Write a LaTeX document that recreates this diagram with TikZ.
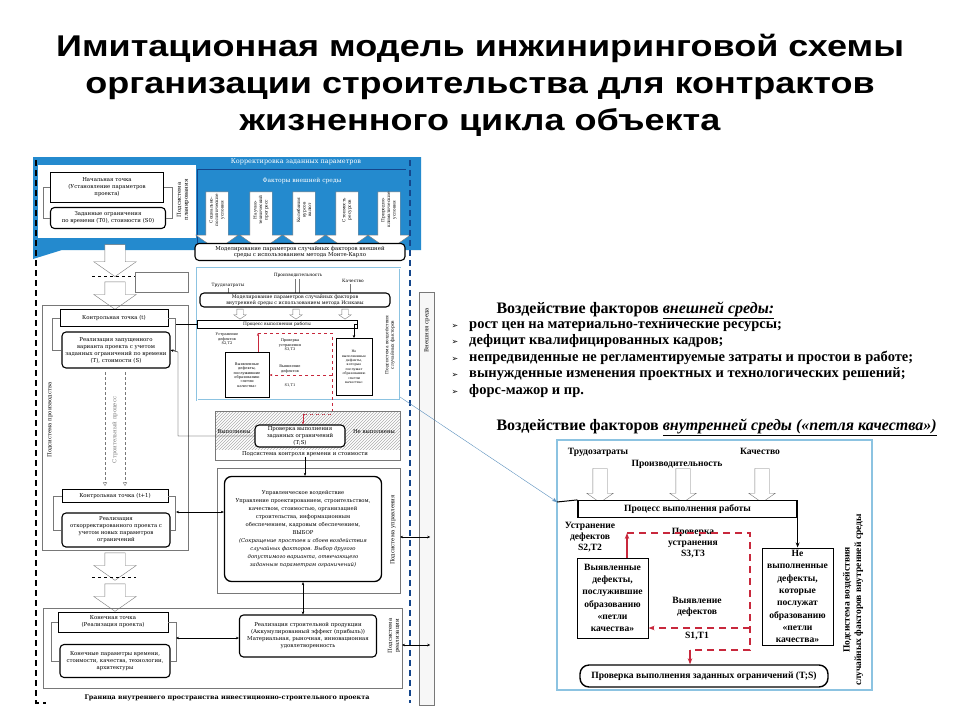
\documentclass[tikz,border=0pt]{standalone}
\usepackage{fontspec}
\setmainfont{Liberation Serif}
\newfontfamily\titlefont{Liberation Sans}
\newfontfamily\symfont{DejaVu Sans}
\newfontfamily\scanfont{DejaVu Serif}
\usetikzlibrary{shapes.arrows,patterns,arrows.meta}
\definecolor{bandblue}{RGB}{36,138,206}
\definecolor{deepblue}{RGB}{20,70,140}
\definecolor{frameblue}{RGB}{140,195,225}
\definecolor{loopred}{RGB}{200,40,60}
\definecolor{linegray}{RGB}{120,120,120}
\begin{document}
\begin{tikzpicture}[x=1pt,y=-1pt,
	tiny/.style={font=\scanfont\fontsize{5.4}{7}\selectfont, align=center, inner sep=0.5pt},
	box/.style={tiny, draw, line width=0.9pt, fill=white},
	rbox/.style={box, line width=1.1pt, rounded corners=4pt},
	vtext/.style={tiny, rotate=90},
	mini/.style={tiny, font=\scanfont\fontsize{3.6}{4.4}\selectfont},
	bigarrow/.style={single arrow, draw=linegray, fill=white, shape border rotate=270, single arrow tip angle=110},
	link/.style={-{Stealth[length=3pt,width=2.5pt]}, thin},
	dlink/.style={{Stealth[length=3pt,width=2.5pt]}-{Stealth[length=3pt,width=2.5pt]}, thin},
	bracket/.style={linegray, line width=0.6pt},
	reddash/.style={loopred, line width=1.2pt, dash pattern=on 7pt off 5pt},
	rt/.style={font=\fontsize{9.6}{10.6}\selectfont\bfseries, align=center, inner sep=0.5pt},
	rbx/.style={rt, draw, line width=1pt, font=\fontsize{9.6}{12.3}\selectfont\bfseries}]
	\useasboundingbox[fill=white] (0,0) rectangle (960,720);
	\node[font=\titlefont\bfseries\fontsize{30}{37}\selectfont, align=center] (title) at (480,85) {\scalebox{1.2}[1]{Имитационная модель инжиниринговой схемы}\\\scalebox{1.2}[1]{организации строительства для контрактов}\\\scalebox{1.2}[1]{жизненного цикла объекта}};

	\fill[bandblue] (33,157) -- (421,157) -- (421,250) -- (62,250) -- (33,259) -- cycle;
	\fill[white] (38,165) rectangle (196,238);
	\draw[deepblue, thin] (197,246) |- (406,169);
	\node[tiny, white, font=\scanfont\fontsize{6.5}{7}\selectfont] (corr) at (296,162) {Корректировка заданных параметров};
	\node[tiny, white, font=\scanfont\fontsize{6}{7}\selectfont] (extf) at (302,181) {Факторы внешней среды};
	\foreach \x/\t [count=\i] in {217/{Социально-\\политические\\условия}, 261/{Научно-\\технический\\прогресс}, 304/{Колебания\\курсов\\валют}, 347/{Стоимость\\ресурсов}, 389/{Природно-\\климатические\\условия}}{
		\node[bigarrow, inner sep=11, minimum height=58, minimum width=42, single arrow head extend=10] (ea\i) at (\x,217) {};
		\node[vtext, font=\scanfont\fontsize{4.3}{5.6}\selectfont] (et\i) at (\x,210) {\t};
	}
	\node[rbox, minimum width=210, minimum height=17, font=\scanfont\fontsize{5.4}{6.4}\selectfont] (monte) at (300,252) {Моделирование параметров случайных факторов внешней\\среды с использованием метода Монте-Карло};

	\node[box, minimum width=113, minimum height=30] (start) at (107,187) {Начальная точка\\(Установление параметров\\проекта)};
	\node[rbox, minimum width=115, minimum height=21] (limits) at (108,218) {Заданные ограничения\\по времени (T0), стоимости (S0)};
	\draw[bracket] (start.west) -- ++(-7,0) |- (limits.west);
	\draw[bracket] (start.east) -- ++(8,0) |- (limits.east);
	\node[vtext] (plan) at (183,200) {Подсистема\\планирования};

	\node[bigarrow, inner sep=10, minimum height=32, minimum width=42, single arrow head extend=11] (da1) at (115,257) {};
	\draw[dashed, thick] (92,276) -- (136,276);
	\node[bigarrow, inner sep=10, minimum height=24, minimum width=42, single arrow head extend=11] (da2) at (115,292) {};
	\draw[linegray] (135,272) rectangle (188,292);

	\draw[linegray] (42,305) rectangle (188,550);
	\node[box, minimum width=108, minimum height=17] (cp1) at (114,318) {Контрольная точка (t)};
	\node[rbox, minimum width=108, minimum height=36] (real1) at (116,350) {Реализация запущенного\\варианта проекта с учетом\\заданных ограничений по времени\\(T), стоимости (S)};
	\draw[bracket] (cp1.west) -- ++(-7,0) |- (real1.west);
	\draw[bracket] (cp1.east) -- ++(7,0) |- (real1.east);
	\draw[linegray, densely dashed, -{Triangle[open]}] (105,372) -- (105,486);
	\draw[linegray, densely dashed, -{Triangle[open]}] (125,372) -- (125,486);
	\node[vtext, linegray] (build) at (115,430) {Строительный процесс};
	\node[vtext] (prodsys) at (50,420) {Подсистема производства};
	\node[box, minimum width=106, minimum height=13] (cp2) at (115,496) {Контрольная точка (t+1)};
	\node[rbox, minimum width=108, minimum height=34] (real2) at (116,530) {Реализация\\откорректированного проекта с\\учетом новых параметров\\ограничений};
	\draw[bracket] (cp2.west) -- ++(-8,0) |- (real2.west);
	\draw[bracket] (cp2.east) -- ++(7,0) |- (real2.east);

	\node[bigarrow, inner sep=10, minimum height=24, minimum width=42, single arrow head extend=11] (da3) at (115,563) {};
	\draw[dashed, thick] (92,577) -- (136,577);
	\node[bigarrow, inner sep=10, minimum height=27, minimum width=42, single arrow head extend=11] (da4) at (115,594) {};

	\draw[linegray] (43,608) rectangle (402,688);
	\node[box, minimum width=110, minimum height=20] (finish) at (113,622) {Конечная точка\\(Реализация проекта)};
	\node[rbox, minimum width=110, minimum height=33] (finpar) at (115,661) {Конечные параметры времени,\\стоимости, качества, технологии,\\архитектуры};
	\draw[bracket] (finish.west) -- ++(-6,0) |- (finpar.west);
	\draw[bracket] (finish.east) -- ++(8,0) |- (finpar.east);
	\node[rbox, minimum width=137, minimum height=42] (sale) at (308,636) {Реализация строительной продукции\\(Аккумулированный эффект (прибыль))\\Материальная, рыночная, инновационная\\удовлетворенность};
	\node[vtext] (salesys) at (394,636) {Подсистема\\реализации};
	\node[tiny, font=\scanfont\bfseries\fontsize{6.4}{7}\selectfont] (border) at (227,698) {Граница внутреннего пространства инвестиционно-строительного проекта};

	\draw[frameblue, double, double distance=1pt] (197,268) rectangle (400,400);
	\node[mini, font=\scanfont\fontsize{4.4}{5}\selectfont] (prod2) at (298,275) {Производительность};
	\node[mini, font=\scanfont\fontsize{4.4}{5}\selectfont] (labour2) at (228,285) {Трудозатраты};
	\node[mini, font=\scanfont\fontsize{4.4}{5}\selectfont] (qual2) at (353,281) {Качество};
	\draw[linegray] (295,279) -- (295,293) (299,279) -- (299,293) (228,288) -- (228,293) (350,284) -- (350,293);
	\node[rbox, minimum width=190, minimum height=14, font=\scanfont\fontsize{4.8}{5.8}\selectfont] (isik) at (295,300) {Моделирование параметров случайных факторов\\внутренней среды с использованием метода Исикавы};
	\foreach \x [count=\i] in {240,296,345}
		\node[bigarrow, inner sep=3, minimum height=10, minimum width=12, single arrow head extend=3] (ia\i) at (\x,313) {};
	\node[box, minimum width=160, minimum height=8, font=\scanfont\fontsize{4.4}{5}\selectfont] (work2) at (277,324) {Процесс выполнения работы};
	\coordinate (cpb) at (176,324);
	\draw[thin] (cpb) -- (work2.west);
	\node[box, mini, minimum width=44, minimum height=45] (found2) at (247,375) {Выявленные\\дефекты,\\послужившие\\образованию\\«петли\\качества»};
	\node[box, mini, minimum width=36, minimum height=57, font=\scanfont\fontsize{3.3}{4.4}\selectfont] (notdone2) at (354,367) {Не\\выполненные\\дефекты,\\которые\\послужат\\образованию\\«петли\\качества»};
	\draw[link] (work2.east) -| (notdone2.north);
	\node[mini] (fix2) at (227,339) {Устранение\\дефектов\\S2,T2};
	\node[mini] (recheck2) at (290,345) {Проверка\\устранения\\S3,T3};
	\node[mini] (detect2) at (290,369) {Выявление\\дефектов};
	\node[mini] (s2) at (290,385) {S1,T1};
	\coordinate (mA) at (258,333);
	\coordinate (mB) at (332,333);
	\coordinate (mC) at (332,414);
	\coordinate (mD) at (303,414);
	\coordinate (mE) at (332,375);
	\draw[loopred, thin, -{Stealth[length=3pt]}] (found2.north -| mA) -- (mA);
	\draw[loopred, thin, dashed] (mA) -- (mB) -- (mC) -- (mD);
	\draw[loopred, thin, dashed, -{Stealth[length=3pt]}] (mE) -- (found2.east |- mE);
	\node[vtext, font=\scanfont\fontsize{4.4}{5.4}\selectfont] (intmini) at (390,345) {Подсистема воздействия\\случайных факторов};

	\fill[pattern=north east lines, pattern color=linegray!60] (215,411) rectangle (400,449);
	\draw[linegray] (215,411) rectangle (400,460);
	\node[rbox, minimum width=90, minimum height=22] (check2) at (300,436) {Проверка выполнения\\заданных ограничений\\(T;S)};
	\draw[loopred, thin, -{Stealth[length=3pt]}] (mD) -- (check2.north -| mD);
	\node[tiny] (done) at (234,432) {Выполнены};
	\node[tiny] (undone) at (374,432) {Не выполнены};
	\node[tiny] (ctrllab) at (305,454) {Подсистема контроля времени и стоимости};
	\coordinate (r1) at (178,352);
	\draw[link] (check2.west) -| (r1) -- (real1.east);

	\draw[linegray] (217,468) rectangle (400,593);
	\node[rbox, line width=1.3pt, rounded corners=7pt, minimum width=157, minimum height=105, font=\scanfont\fontsize{5.3}{8}\selectfont] (mgmt) at (303,529) {Управленческое воздействие\\Управление проектированием, строительством,\\качеством, стоимостью, организацией\\строительства, информационным\\обеспечением, кадровым обеспечением,\\ВЫБОР\\\textit{(Сокращение простоев и сбоев воздействия}\\\textit{случайных факторов. Выбор другого}\\\textit{допустимого варианта, отвечающего}\\\textit{заданным параметрам ограничений)}};
	\node[vtext] (mgmtsys) at (393,530) {Подсистема управления};
	\draw[link] (ctrllab.south) -- (ctrllab.south |- mgmt.north);
	\coordinate (b2) at (176,512);
	\draw[dlink] (b2) -- (b2 -| mgmt.west);
	\draw[dlink] (mgmt.south) -- (mgmt.south |- sale.north);
	\coordinate (b3) at (176,638);
	\draw[dlink] (b3) -- (b3 -| sale.west);

	\draw[linegray, fill=gray!6] (419,292) rectangle (434,705);
	\node[vtext] (ext) at (427,330) {Внешняя среда};
	\draw[deepblue, line width=1.3pt, dash pattern=on 6pt off 4pt] (410,160) -- (410,703);
	\draw[black, line width=1.3pt, dash pattern=on 6pt off 4pt] (36,160) -- (36,703) -- (46,703);
	\coordinate (mg) at (400,537);
	\coordinate (rl) at (402,645);
	\draw[dlink] (mg) -- (mg -| ext.south);
	\draw[dlink] (rl) -- (rl -| ext.south);

	\node[anchor=west, font=\fontsize{16}{18}\selectfont\bfseries] (exthdr) at (493,310) {Воздействие факторов \underline{\textit{внешней среды:}}};
	\node[anchor=north west, align=left, font=\fontsize{14.5}{16.5}\selectfont\bfseries] (extlist) at (448,318) {{\symfont\fontsize{8}{16.5}\selectfont ➢}\hspace{11pt}рост цен на материально-технические ресурсы;\\{\symfont\fontsize{8}{16.5}\selectfont ➢}\hspace{11pt}дефицит квалифицированных кадров;\\{\symfont\fontsize{8}{16.5}\selectfont ➢}\hspace{11pt}непредвиденные не регламентируемые затраты и простои в работе;\\{\symfont\fontsize{8}{16.5}\selectfont ➢}\hspace{11pt}вынужденные изменения проектных и технологических решений;\\{\symfont\fontsize{8}{16.5}\selectfont ➢}\hspace{11pt}форс-мажор и пр.};
	\node[anchor=west, font=\fontsize{16}{18}\selectfont\bfseries] (inthdr) at (493,427) {Воздействие факторов \underline{\textit{внутренней среды («петля качества»)}}};

	\draw[frameblue, line width=1.2pt] (557,440) rectangle (872,690);
	\coordinate (mini) at (400,397);
	\coordinate (zoomin) at (557,502);
	\draw[frameblue!60!deepblue, -{Stealth[length=5pt]}] (mini) -- (zoomin);
	\node[rt] (labour) at (598,452) {Трудозатраты};
	\node[rt] (prod) at (677,464) {Производительность};
	\node[rt] (qual) at (760,451) {Качество};
	\foreach \x [count=\i] in {600,683,762}
		\node[bigarrow, inner sep=7, minimum height=34, minimum width=26, single arrow head extend=6] (pa\i) at (\x,483) {};
	\node[rt, draw, line width=1.2pt, minimum width=219, minimum height=17, fill=white] (work) at (687.5,509) {Процесс выполнения работы};
	\draw[line width=1pt] (zoomin) -- (work.north west);
	\node[rbx, minimum width=71, minimum height=80] (found) at (612.5,598) {Выявленные\\дефекты,\\послужившие\\образованию\\«петли\\качества»};
	\node[rbx, minimum width=71, minimum height=97] (notdone) at (797.5,596.5) {Не\\выполненные\\дефекты,\\которые\\послужат\\образованию\\«петли\\качества»};
	\draw[line width=0.8pt, -{Stealth[length=5pt]}] (work.south east) -- (work.south east |- notdone.north);
	\node[rt] (fix) at (590,537) {Устранение\\дефектов\\S2,T2};
	\node[rt] (recheck) at (693,543) {Проверка\\устранения\\S3,T3};
	\node[rt] (detect) at (697,607) {Выявление\\дефектов};
	\node[rt] (s1) at (697,636) {S1,T1};
	\node[rt, draw, line width=1.4pt, rounded corners=9pt, minimum width=248, minimum height=22] (final) at (704,676) {Проверка выполнения заданных ограничений (T;S)};
	\coordinate (lpA) at (627,533);
	\coordinate (lpB) at (750,533);
	\coordinate (lpC) at (750,650);
	\coordinate (lpD) at (690,650);
	\coordinate (lpE) at (750,628);
	\draw[loopred, line width=1.2pt, -{Stealth[length=6pt]}] (found.north -| lpA) -- (lpA);
	\draw[reddash] (lpA) -- (lpB) -- (lpC) -- (lpD);
	\draw[loopred, line width=1.2pt, -{Stealth[length=6pt]}] (lpD) -- (final.north -| lpD);
	\draw[reddash, -{Stealth[length=6pt]}] (lpE) -- (found.east |- lpE);
	\node[rt, rotate=90, font=\fontsize{9.5}{11.5}\selectfont\bfseries] (intsys) at (853,600) {Подсистема воздействия\\случайных факторов внутренней среды};
\end{tikzpicture}
\end{document}
